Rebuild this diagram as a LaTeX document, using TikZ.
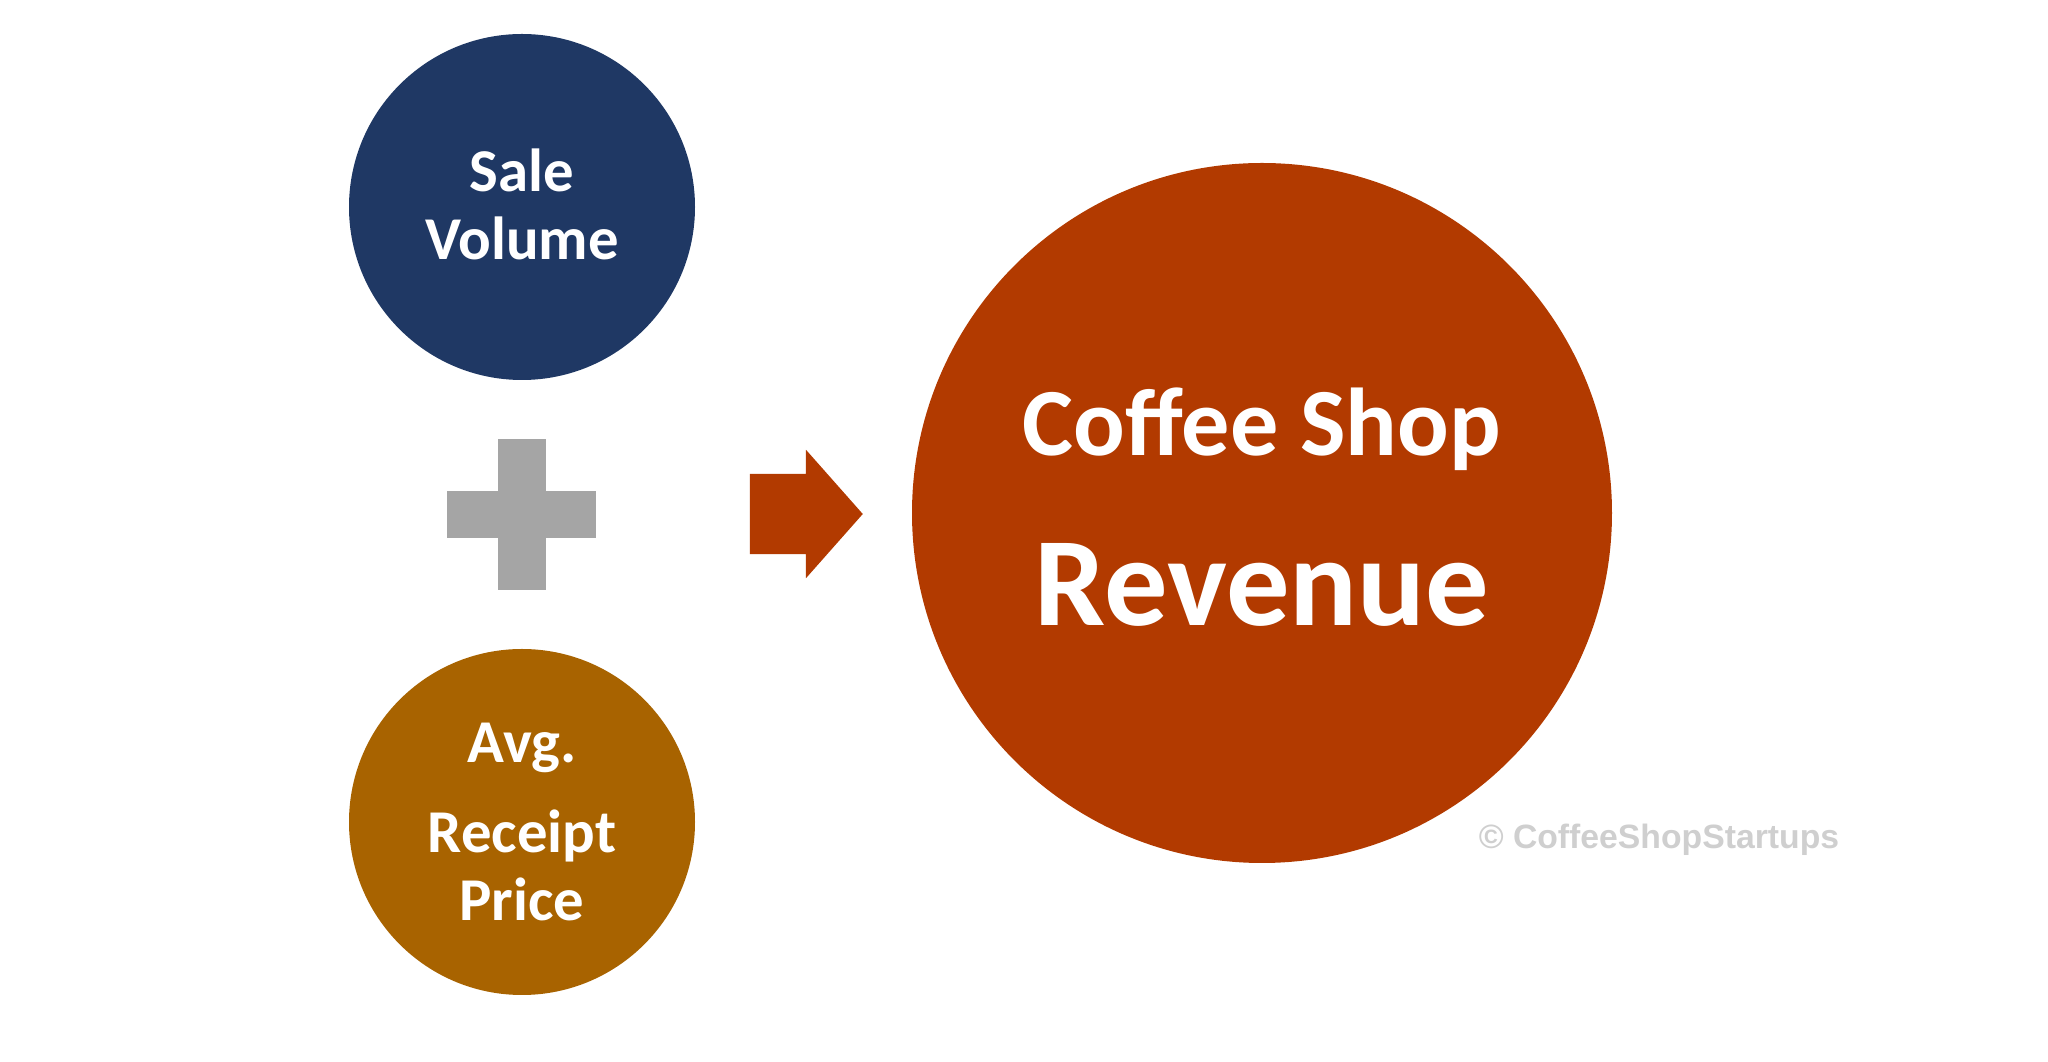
\documentclass[tikz,border=0pt]{standalone}
\usepackage{fontspec}
\setmainfont{Carlito}
\newfontfamily\markfont{Liberation Sans}
\usetikzlibrary{shapes.arrows}
\definecolor{navyblue}{HTML}{1F3864}
\definecolor{ambergold}{HTML}{A86300}
\definecolor{rustred}{HTML}{B23A00}
\definecolor{plusgray}{HTML}{A5A5A5}
\definecolor{markgray}{HTML}{CFCFCF}

\begin{document}
\begin{tikzpicture}[
    smallcircle/.style={circle, fill=#1, minimum size=3.46cm, inner sep=0pt, align=center, text=white, font=\fontsize{17.3}{19.4}\selectfont\bfseries},
    bigcircle/.style={circle, fill=rustred, minimum size=7cm, inner sep=0pt, align=center, text=white, font=\bfseries},
    plusbar/.style={rectangle, fill=plusgray, inner sep=0pt},
    nextarrow/.style={single arrow, fill=rustred, inner xsep=0pt, inner ysep=0.395cm, minimum height=1.13cm, minimum width=1.27cm, single arrow head extend=0.24cm, single arrow tip angle=97}
]
    \useasboundingbox (0, 0) rectangle (20.48, 10.62);

    % Inputs
    \node[smallcircle=navyblue] (volume) at (5.22, 8.55) {Sale\\Volume\rule[-0.05cm]{0pt}{0pt}};
    \node[smallcircle=ambergold] (price) at (5.22, 2.40) {Avg.\\[0.22cm]Receipt\\Price};

    % Plus
    \node[plusbar, minimum width=1.49cm, minimum height=0.47cm] (plush) at (5.215, 5.475) {};
    \node[plusbar, minimum width=0.48cm, minimum height=1.51cm] (plusv) at (5.22, 5.475) {};

    % Arrow
    \node[nextarrow] (result) at (7.885, 5.48) {};

    % Revenue
    \node[bigcircle] (revenue) at (12.62, 5.49) {
        \fontsize{27.4}{33}\selectfont Coffee Shop\\[0.69cm]
        \fontsize{36}{43}\selectfont Revenue\rule[-0.13cm]{0pt}{0pt}
    };

    \node[text=markgray, font=\markfont\fontsize{9.6}{11}\selectfont\bfseries] (mark) at (16.59, 2.225) {© CoffeeShopStartups};
\end{tikzpicture}
\end{document}
